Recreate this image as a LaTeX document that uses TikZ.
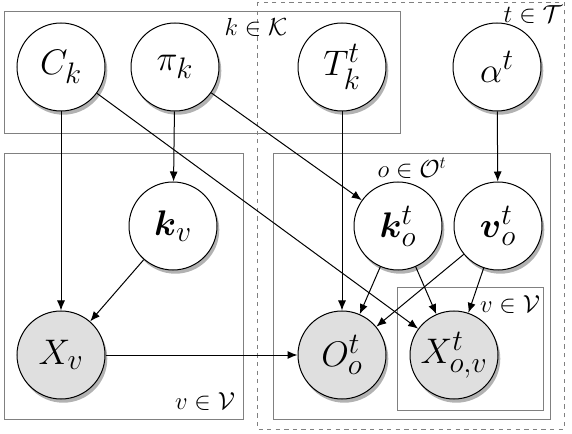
\documentclass[tikz,border=0pt]{standalone}
\usepackage{amsmath}
\usepackage{amssymb}
\usetikzlibrary{arrows.meta, backgrounds}

\begin{document}
\begin{tikzpicture}[
  x=0.7pt, y=-0.7pt, >={Latex[length=7pt, width=5.6pt]},
  var/.style={circle, draw, line width=0.7pt, fill=white, minimum size=61.6pt,
    inner sep=0pt, font=\Huge},
  obs/.style={var, fill=gray!25},
  shade/.style={fill=black!30},
  plate/.style={draw=gray, line width=0.6pt},
  lbl/.style={font=\LARGE, inner sep=0pt},
  edge/.style={->, line width=0.7pt}
]
\useasboundingbox (0,0) rectangle (572,434);

% plates
\draw[plate] (4,11) rectangle (400,133);
\draw[plate] (4,153) rectangle (243,419);
\draw[plate] (273,153) rectangle (550,419);
\draw[plate] (397,287) rectangle (543,410);
\draw[plate, dashed, line width=0.45pt] (257,2) rectangle (564,429);

\node[lbl] (kplate) at (256,27)  {$k\in\mathcal{K}$};
\node[lbl] (tplate) at (533,15)  {$t\in\mathcal{T}$};
\node[lbl] (oplate) at (412,168) {$o\in\mathcal{O}^t$};
\node[lbl] (vplate) at (205,402) {$v\in\mathcal{V}$};
\node[lbl] (wplate) at (510,305) {$v\in\mathcal{V}$};

% variables
\node[var] (ck)  at (61,67)   {$C_k$};
\node[var] (pik) at (175,67)  {$\pi_k$};
\node[var] (tk)  at (342,67)  {$T_k^t$};
\node[var] (al)  at (497,67)  {$\alpha^t$};
\node[var] (kv)  at (173,226) {$\boldsymbol{k}_v$};
\node[var] (ko)  at (398,226) {$\boldsymbol{k}_o^t$};
\node[var] (vo)  at (498,226) {$\boldsymbol{v}_o^t$};
\node[obs] (xv)  at (61,355)  {$X_v$};
\node[obs] (oo)  at (342,355) {$O_o^t$};
\node[obs] (xo)  at (454,355) {$X_{o,v}^t$};

% shadows under the circles
\begin{scope}[on background layer]
  \foreach \n in {ck,pik,tk,al,kv,ko,vo,xv,oo,xo}
    \fill[shade] ([xshift=1.6pt, yshift=-2.6pt]\n.center) circle[radius=30.8pt];
\end{scope}

% dependencies
\draw[edge] (ck)  -- (xv);
\draw[edge] (ck)  -- (xo);
\draw[edge] (pik) -- (kv);
\draw[edge] (pik) -- (ko);
\draw[edge] (tk)  -- (oo);
\draw[edge] (al)  -- (vo);
\draw[edge] (kv)  -- (xv);
\draw[edge] (xv)  -- (oo);
\draw[edge] (ko)  -- (oo);
\draw[edge] (ko)  -- (xo);
\draw[edge] (vo)  -- (oo);
\draw[edge] (vo)  -- (xo);
\end{tikzpicture}
\end{document}
